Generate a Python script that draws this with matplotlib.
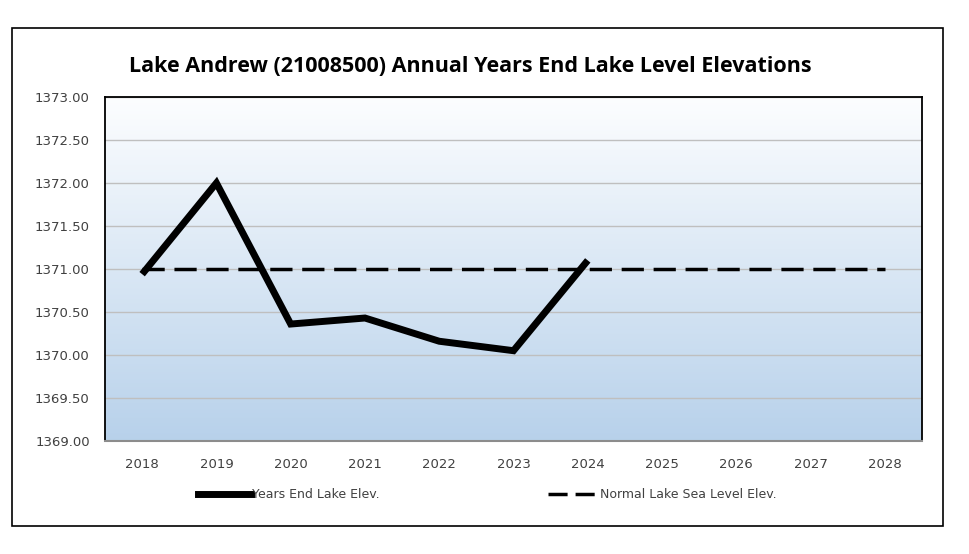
import matplotlib
matplotlib.use("Agg")
import matplotlib.pyplot as plt
import numpy as np
from matplotlib.lines import Line2D
from matplotlib.patches import Rectangle

years = ["2018", "2019", "2020", "2021", "2022", "2023", "2024", "2025", "2026", "2027", "2028"]
lake_elev = [1370.94, 1372.00, 1370.36, 1370.43, 1370.16, 1370.05, 1371.10]
normal_elev = [1371.00] * len(years)
title = "Lake Andrew (21008500) Annual Years End Lake Level Elevations"
yticks = [1369.0, 1369.5, 1370.0, 1370.5, 1371.0, 1371.5, 1372.0, 1372.5, 1373.0]

W, H = 969, 554
fig = plt.figure(figsize=(W / 100, H / 100), dpi=100)
fig.patch.set_facecolor("white")

# outer chart border
fig.patches.append(Rectangle((12 / W, 1 - 526 / H), (943 - 12) / W, (526 - 28) / H,
                             transform=fig.transFigure, fill=False, edgecolor="black",
                             linewidth=1.2))

ax = fig.add_axes([105 / W, 1 - 441 / H, (922 - 105) / W, (441 - 97) / H])
x = np.arange(len(years))
ax.set_xlim(-0.5, len(years) - 0.5)
ax.set_ylim(1369, 1373)

# gradient background (white at top, light blue at bottom)
grad = np.linspace(0, 1, 256).reshape(-1, 1)
top = np.array([0.99, 0.995, 1.0])
bot = np.array([0.72, 0.82, 0.92])
img = top + (bot - top) * grad[..., None]
ax.imshow(img, extent=[-0.5, len(years) - 0.5, 1369, 1373], origin="upper",
          aspect="auto", zorder=0)

ax.set_yticks(yticks)
ax.yaxis.grid(True, color="#bfbfbf", linewidth=1.0, zorder=1)
ax.set_axisbelow(True)
ax.set_xticks(x)
ax.set_xticklabels(years)
ax.set_yticklabels([f"{v:.2f}" for v in yticks])
ax.tick_params(axis="both", length=0, labelsize=9.5, labelcolor="#404040")
ax.tick_params(axis="x", pad=12)
ax.tick_params(axis="y", pad=11)

for s in ["top", "left", "right"]:
    ax.spines[s].set_color("black")
    ax.spines[s].set_linewidth(1.3)
ax.spines["bottom"].set_color("#8c8c8c")
ax.spines["bottom"].set_linewidth(1.5)

ax.plot(x, normal_elev, color="black", linewidth=2.5, linestyle=(0, (6.4, 2.8)), zorder=3,
        dash_capstyle="butt")
ax.plot(x[:len(lake_elev)], lake_elev, color="black", linewidth=5.0, zorder=4,
        solid_joinstyle="miter", solid_capstyle="butt")

fig.text(470 / W, 1 - 67 / H, title, ha="center", va="center", fontsize=15.5,
         fontweight="bold", family="Open Sans", color="black")

h1 = Line2D([], [], color="black", linewidth=5.0)
h2 = Line2D([], [], color="black", linewidth=2.5, linestyle=(0, (5.5, 2.3)))
ly = 1 - 495 / H
leg1 = fig.legend([h1], ["Years End Lake Elev."], loc="center left",
                  bbox_to_anchor=(198 / W, ly), frameon=False, borderpad=0,
                  borderaxespad=0, handlelength=4.2, handletextpad=0.15,
                  prop={"size": 9})
leg2 = fig.legend([h2], ["Normal Lake Sea Level Elev."], loc="center left",
                  bbox_to_anchor=(548 / W, ly), frameon=False, borderpad=0,
                  borderaxespad=0, handlelength=4.0, handletextpad=0.2,
                  prop={"size": 9})
for leg in (leg1, leg2):
    for t in leg.get_texts():
        t.set_color("#404040")

fig.savefig("out.png", dpi=100)
